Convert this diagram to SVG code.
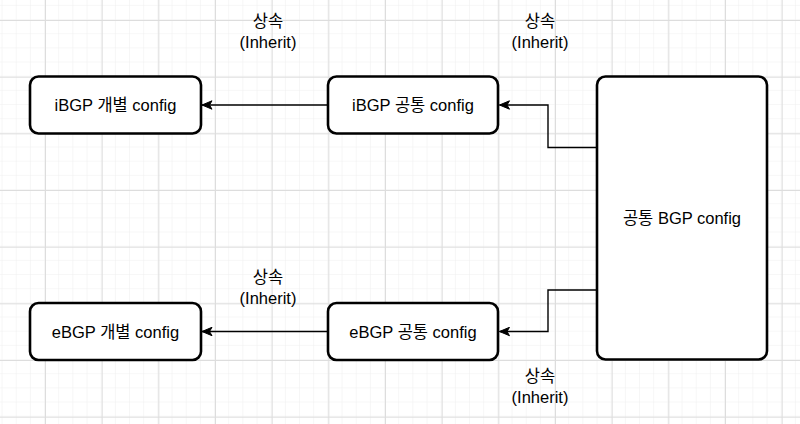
<svg xmlns="http://www.w3.org/2000/svg" width="800" height="424" viewBox="0 0 800 424">
<defs>
<pattern id="minor" x="2.5" y="5.83" width="14.1667" height="14.1667" patternUnits="userSpaceOnUse">
<path d="M14.1667,0 V14.1667 M0,14.1667 H14.1667" fill="none" stroke="#efefef" stroke-width="1"/>
</pattern>
<pattern id="major" x="45" y="20" width="56.6667" height="56.6667" patternUnits="userSpaceOnUse">
<path d="M0.5,0 V56.6667 M0,0.5 H56.6667" fill="none" stroke="#dddddd" stroke-width="1"/>
</pattern>
<marker id="arr" markerUnits="userSpaceOnUse" markerWidth="12" markerHeight="10" refX="11" refY="5" orient="auto">
<path d="M1,0.8 L11,5 L1,9.2 L3.5,5 Z" fill="#000" stroke="#000" stroke-width="1"/>
</marker>
<style>
.box{fill:#fff;stroke:#000;stroke-width:2.6}
.t{font-family:"Liberation Sans","Noto Sans CJK KR",Arial,sans-serif;font-size:16.5px;fill:#000;text-anchor:middle}
.c{fill:none;stroke:#000;stroke-width:1.4}
</style>
</defs>
<rect width="800" height="424" fill="#fff"/>
<rect width="800" height="424" fill="url(#minor)"/>
<rect width="800" height="424" fill="url(#major)"/>

<g id="connectors">
<path class="c" d="M328,105 H202" marker-end="url(#arr)"/>
<path class="c" d="M597,147.5 H548 V105 H499.5" marker-end="url(#arr)"/>
<path class="c" d="M597,290 H548 V331.5 H499.5" marker-end="url(#arr)"/>
<path class="c" d="M328,331.5 H202" marker-end="url(#arr)"/>
</g>

<g id="ibgp-individual">
<rect class="box" x="30" y="76.5" width="171" height="57" rx="8.5"/>
<text class="t" x="115.5" y="111">iBGP 개별 config</text>
</g>
<g id="ibgp-common">
<rect class="box" x="328" y="76.5" width="170" height="57" rx="8.5"/>
<text class="t" x="413" y="111">iBGP 공통 config</text>
</g>
<g id="common-bgp">
<rect class="box" x="597" y="76.5" width="170" height="283" rx="8.5"/>
<text class="t" x="682" y="224">공통 BGP config</text>
</g>
<g id="ebgp-individual">
<rect class="box" x="30" y="303" width="171" height="57" rx="8.5"/>
<text class="t" x="115.5" y="337.5">eBGP 개별 config</text>
</g>
<g id="ebgp-common">
<rect class="box" x="328" y="303" width="170" height="57" rx="8.5"/>
<text class="t" x="413" y="337.5">eBGP 공통 config</text>
</g>

<g id="labels">
<text class="t" x="268" y="26.5">상속</text>
<text class="t" x="268" y="48">(Inherit)</text>
<text class="t" x="540" y="26.5">상속</text>
<text class="t" x="540" y="48">(Inherit)</text>
<text class="t" x="268" y="283">상속</text>
<text class="t" x="268" y="304">(Inherit)</text>
<text class="t" x="540" y="381.5">상속</text>
<text class="t" x="540" y="402.5">(Inherit)</text>
</g>
</svg>
